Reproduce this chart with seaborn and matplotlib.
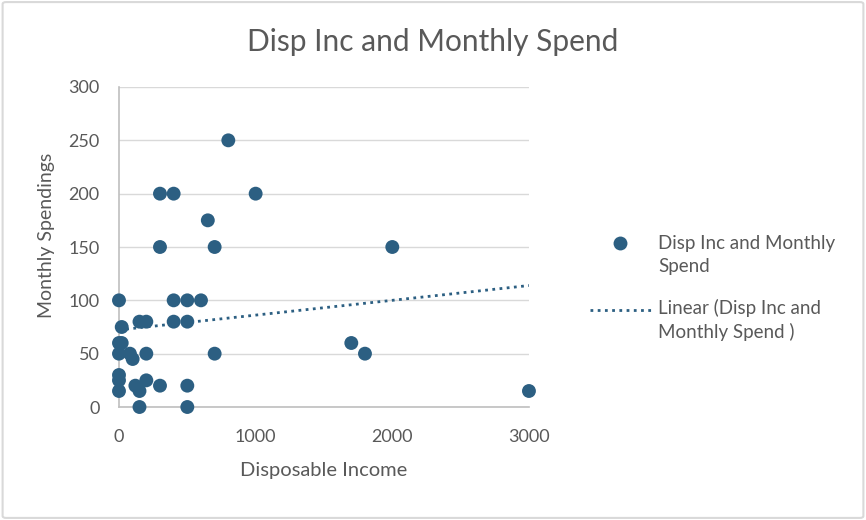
import numpy as np
import pandas as pd
import matplotlib.pyplot as plt
import seaborn as sns
from matplotlib.lines import Line2D
from matplotlib.patches import FancyBboxPatch

# Data
disp_income = [0, 400, 500, 600,
               150, 200, 400, 500,
               20, 0, 20,
               0, 80, 100, 200, 700,
               0, 0, 200,
               120, 150, 300, 500, 0,
               150, 500,
               300, 400, 1000, 800, 650, 300, 700,
               1700, 1800, 2000, 3000]
monthly_spend = [100, 100, 100, 100,
                 80, 80, 80, 80,
                 75, 60, 60,
                 50, 50, 45, 50, 50,
                 30, 25, 25,
                 20, 15, 20, 20, 15,
                 0, 0,
                 200, 200, 200, 250, 175, 150, 150,
                 60, 50, 150, 15]

df = pd.DataFrame({"Disposable Income": disp_income, "Monthly Spendings": monthly_spend})

sns.set_style("white")
plt.rcParams["font.family"] = ["Lato", "DejaVu Sans"]

dot_color = "#2C5F82"
text_color = "#595959"

fig = plt.figure(figsize=(8.66, 5.2), dpi=100)
ax = fig.add_axes([0.1374, 0.2173, 0.4734, 0.6154])

sns.scatterplot(data=df, x="Disposable Income", y="Monthly Spendings", ax=ax,
                color=dot_color, s=100, edgecolor="none", legend=False, zorder=3,
                clip_on=False)

# linear trendline over the data range
slope, intercept = np.polyfit(df["Disposable Income"], df["Monthly Spendings"], 1)
xs = np.array([df["Disposable Income"].min(), df["Disposable Income"].max()])
ax.plot(xs, slope * xs + intercept, color=dot_color, lw=2, linestyle=(0, (1, 1.6)), zorder=2)

ax.set_xlim(0, 3000)
ax.set_ylim(0, 300)
ax.set_xticks([0, 1000, 2000, 3000])
ax.set_yticks(range(0, 301, 50))
ax.yaxis.grid(True, color="#D9D9D9", lw=1)
ax.set_axisbelow(True)
for side in ["top", "right"]:
    ax.spines[side].set_visible(False)
for side in ["left", "bottom"]:
    ax.spines[side].set_color("#BFBFBF")
    ax.spines[side].set_linewidth(1.2)
ax.tick_params(axis="both", length=0, labelsize=13, labelcolor=text_color)
ax.tick_params(axis="x", pad=16)
ax.tick_params(axis="y", pad=14)
ax.set_xlabel("Disposable Income", fontsize=14.5, color=text_color, va="center")
ax.set_ylabel("Monthly Spendings", fontsize=14, color=text_color, va="center")
ax.xaxis.set_label_coords(0.5, -0.197)
ax.yaxis.set_label_coords(-0.178, 0.5375)

fig.text(0.5, 0.92, "Disp Inc and Monthly Spend", ha="center", va="center",
         fontsize=21.5, color=text_color)

# legend, drawn by hand to keep the excel look
fig.add_artist(Line2D([620 / 866], [1 - 243 / 520], marker="o", markersize=10,
                      color=dot_color, markeredgewidth=0, transform=fig.transFigure))
fig.add_artist(Line2D([590 / 866, 652 / 866], [1 - 310 / 520] * 2, color=dot_color,
                      lw=2, linestyle=(0, (1, 1.6)), transform=fig.transFigure))
fig.text(658 / 866, 1 - 255 / 520, "Disp Inc and Monthly\nSpend", ha="left", va="center",
         fontsize=13.5, color=text_color, linespacing=1.4)
fig.text(658 / 866, 1 - 320 / 520, "Linear (Disp Inc and\nMonthly Spend )", ha="left", va="center",
         fontsize=13.5, color=text_color, linespacing=1.4)

# light outer frame
fig.add_artist(FancyBboxPatch((0.003, 0.004), 0.994, 0.992, boxstyle="round,pad=0,rounding_size=0.004",
                              transform=fig.transFigure, fill=False, edgecolor="#D9D9D9", lw=1.5))

fig.savefig("out.png", dpi=100)
